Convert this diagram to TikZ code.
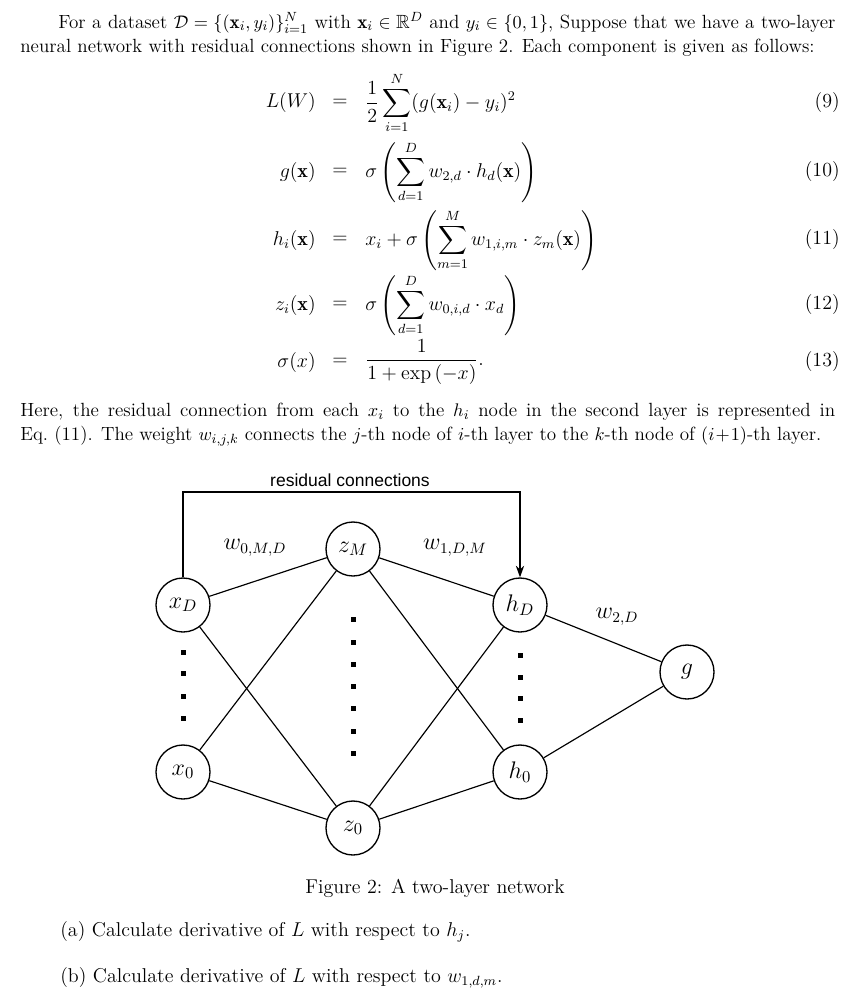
\documentclass[tikz,border=0pt]{standalone}
\usepackage{amsmath,amssymb}
\usepackage{fontspec}
\newfontfamily\sansf{Liberation Sans}
\usetikzlibrary{arrows.meta}
\begin{document}
\begin{tikzpicture}[x=0.6pt,y=-0.6pt,
  every node/.style={font=\fontsize{12}{14.5}\selectfont, inner sep=0pt},
  neuron/.style={circle,draw,line width=0.8pt,minimum size=32.4pt,font=\fontsize{14}{16}\selectfont},
  conn/.style={line width=0.7pt},
  dot/.style={fill=black,minimum size=3pt,inner sep=0pt},
  wlab/.style={font=\fontsize{13.5}{15}\selectfont},
  para/.style={text width=489pt,align=justify,anchor=north west,font=\fontsize{11.45}{14.4}\selectfont}]
\useasboundingbox (0,0) rectangle (848,1006);
\fill[white] (0,0) rectangle (848,1006);
% paragraph 1
\node[para] (p1) at (20,12) {\hspace*{2em}For a dataset $\mathcal{D}=\{(\mathbf{x}_i,y_i)\}_{i=1}^N$ with $\mathbf{x}_i\in\mathbb{R}^D$ and $y_i\in\{0,1\}$, Suppose that we have a two-layer neural network with residual connections shown in Figure 2. Each component is given as follows:};
% equations
\node[anchor=east] (l9) at (316,103) {$L(W)$};
\node (e9) at (340,103) {$=$};
\node[anchor=west] (r9) at (365,103) {$\displaystyle\frac{1}{2}\sum_{i=1}^{N}(g(\mathbf{x}_i)-y_i)^2$};
\node[anchor=east] (n9) at (840,103) {(9)};
\node[anchor=east] (l10) at (316,172) {$g(\mathbf{x})$};
\node (e10) at (340,172) {$=$};
\node[anchor=west] (r10) at (365,172) {$\displaystyle\sigma\left(\sum_{d=1}^{D}w_{2,d}\cdot h_d(\mathbf{x})\right)$};
\node[anchor=east] (n10) at (840,172) {(10)};
\node[anchor=east] (l11) at (316,240) {$h_i(\mathbf{x})$};
\node (e11) at (340,240) {$=$};
\node[anchor=west] (r11) at (365,240) {$\displaystyle x_i+\sigma\left(\sum_{m=1}^{M}w_{1,i,m}\cdot z_m(\mathbf{x})\right)$};
\node[anchor=east] (n11) at (840,240) {(11)};
\node[anchor=east] (l12) at (316,305) {$z_i(\mathbf{x})$};
\node (e12) at (340,305) {$=$};
\node[anchor=west] (r12) at (365,305) {$\displaystyle\sigma\left(\sum_{d=1}^{D}w_{0,i,d}\cdot x_d\right)$};
\node[anchor=east] (n12) at (840,305) {(12)};
\node[anchor=east] (l13) at (316,362) {$\sigma(x)$};
\node (e13) at (340,362) {$=$};
\node[anchor=west] (r13) at (365,362) {$\displaystyle\frac{1}{1+\exp\left(-x\right)}.$};
\node[anchor=east] (n13) at (840,362) {(13)};
% paragraph 2
\node[para] (p2) at (20,403) {Here, the residual connection from each $x_i$ to the $h_i$ node in the second layer is represented in\linebreak Eq.~(11). The weight $w_{i,j,k}$ connects the $j$-th node of $i$-th layer to the $k$-th node of $(i\!+\!1)$-th layer.};
% diagram
\node[neuron] (xD) at (183,605) {$x_D$};
\node[neuron] (x0) at (183,772) {$x_0$};
\node[neuron] (zM) at (353,549) {$z_M$};
\node[neuron] (z0) at (353,828) {$z_0$};
\node[neuron] (hD) at (520,605) {$h_D$};
\node[neuron] (h0) at (520,772) {$h_0$};
\node[neuron] (g) at (687,672) {$g$};
\foreach \a in {xD,x0} \foreach \b in {zM,z0} \draw[conn] (\a) -- (\b);
\foreach \a in {zM,z0} \foreach \b in {hD,h0} \draw[conn] (\a) -- (\b);
\foreach \a in {hD,h0} \draw[conn] (\a) -- (g);
\coordinate (c1) at (183,492);
\coordinate (c2) at (520,492);
\draw[conn,-{Stealth[length=7pt,width=5pt]}] (xD.north) -- (c1) -- (c2) -- (hD.north);
\node (res) at (350,480) {\sansf\fontsize{10.5}{12}\selectfont residual connections};
\node[wlab] (w0) at (255,548) {$w_{0,M,D}$};
\node[wlab] (w1) at (455,548) {$w_{1,D,M}$};
\node[wlab] (w2) at (617,617) {$w_{2,D}$};
\foreach \y [count=\i] in {652,673,696,718} \node[dot] (dx\i) at (183,\y) {};
\foreach \y [count=\i] in {619,642,664,686,708,731,753} \node[dot] (dz\i) at (353,\y) {};
\foreach \y [count=\i] in {655,677,698,720} \node[dot] (dh\i) at (520,\y) {};
% caption and questions
\node (cap) at (435,888) {Figure 2: A two-layer network};
\node[anchor=west] (qa) at (60,932) {(a) Calculate derivative of $L$ with respect to $h_j$.};
\node[anchor=west] (qb) at (60,978) {(b) Calculate derivative of $L$ with respect to $w_{1,d,m}$.};
\end{tikzpicture}
\end{document}
